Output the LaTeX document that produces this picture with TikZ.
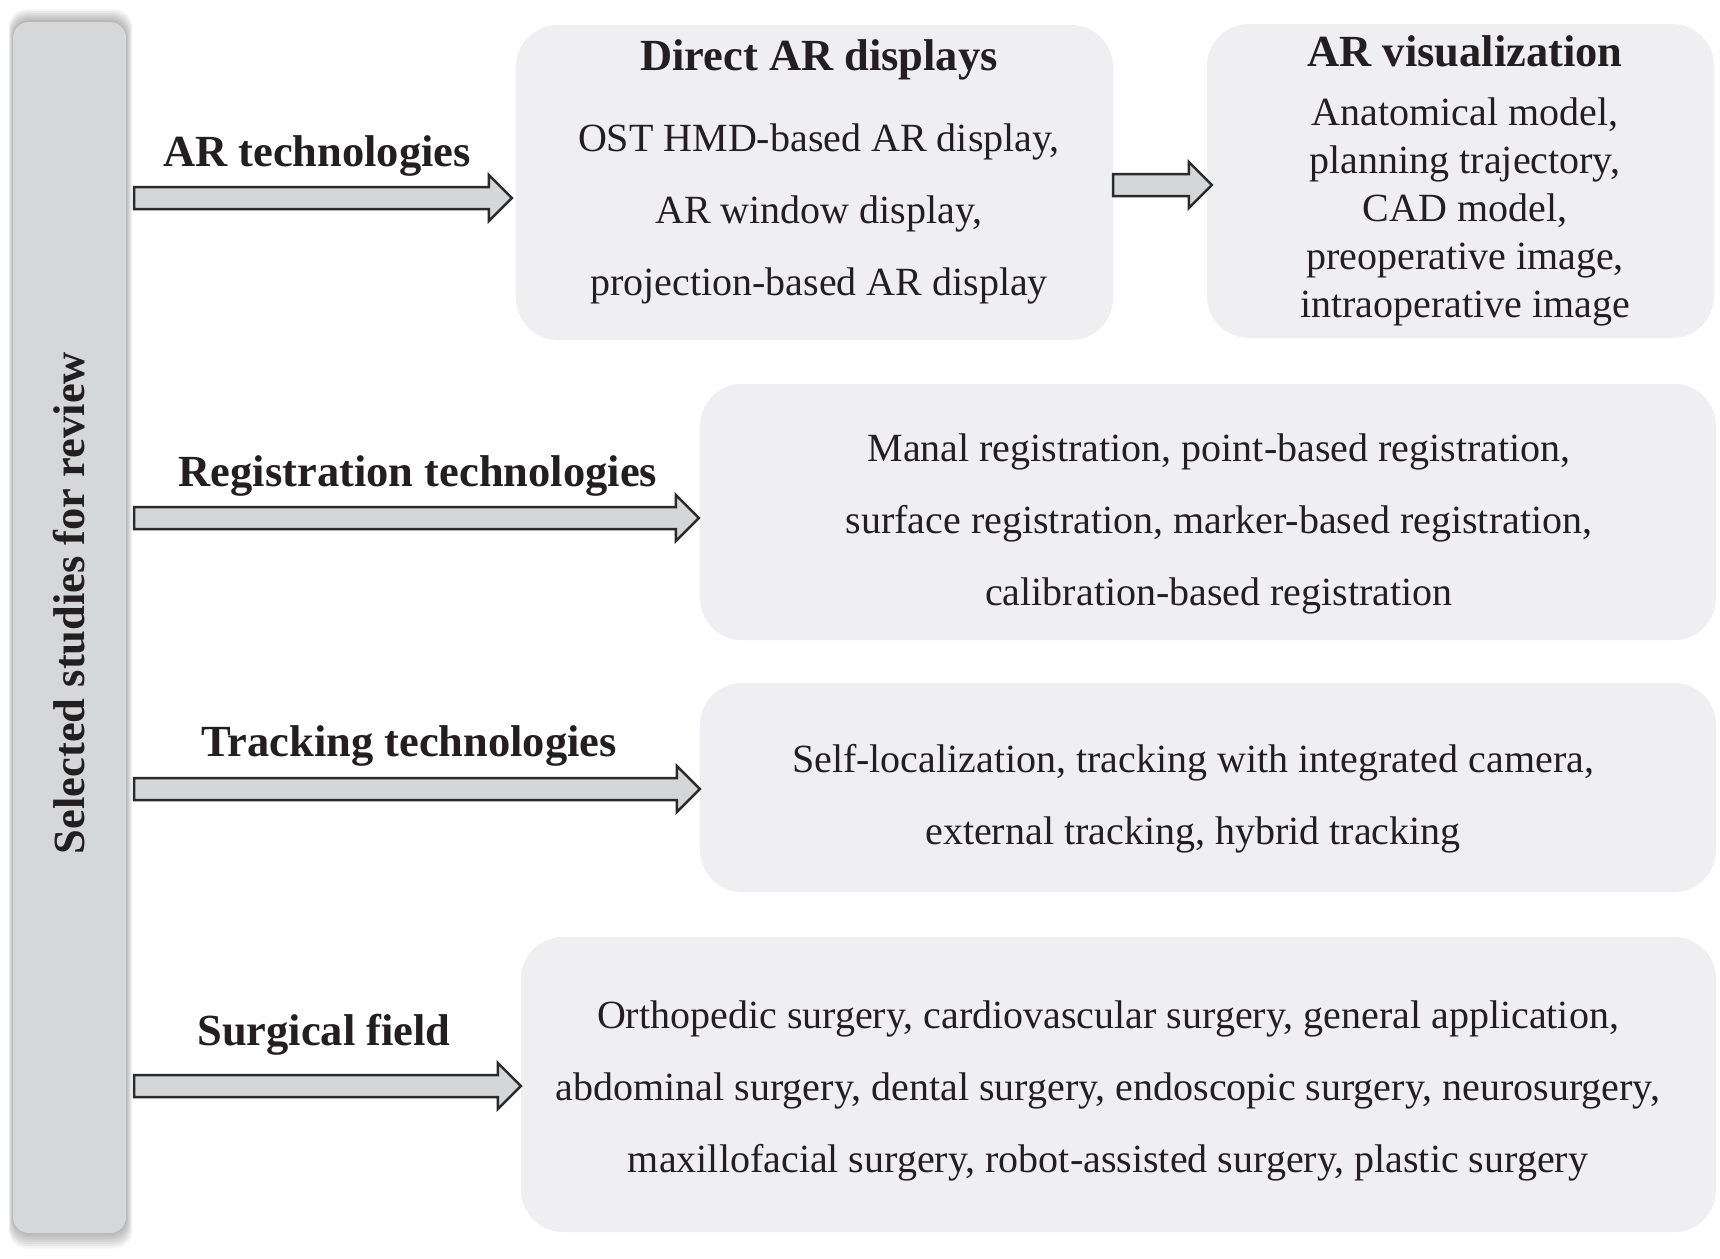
\documentclass[tikz,border=0pt]{standalone}
\usepackage{fontspec}
\setmainfont{Liberation Serif}
\usetikzlibrary{calc}
\definecolor{barfill}{HTML}{D6D7D9}
\definecolor{boxfill}{HTML}{EFEFF1}
\definecolor{arrfill}{HTML}{D5D6D8}
\definecolor{arrline}{HTML}{2B2B2B}
\definecolor{txt}{HTML}{231F20}
\newcommand\blockarr[2]{%
  \draw[blockarrow] let \p1=(#1), \p2=(#2) in
    (\x1,\y1+11pt) -- (\x2-23pt,\y1+11pt) -- (\x2-23pt,\y1+23pt) -- (\x2,\y1)
    -- (\x2-23pt,\y1-23pt) -- (\x2-23pt,\y1-11pt) -- (\x1,\y1-11pt) -- cycle;}
\begin{document}
\begin{tikzpicture}[x=1pt,y=-1pt,
  panel/.style={fill=boxfill, draw=none, rounded corners=42pt, inner sep=0pt},
  bodytext/.style={font=\fontsize{40}{72}\selectfont, text=txt, align=center, anchor=base, inner sep=0pt},
  vistext/.style={font=\fontsize{40}{48}\selectfont, text=txt, align=center, anchor=base, inner sep=0pt},
  headtext/.style={font=\bfseries\fontsize{44.5}{53}\selectfont, text=txt, anchor=base, inner sep=0pt},
  blockarrow/.style={fill=arrfill, draw=arrline, line width=2.5pt, line join=miter}
]
\useasboundingbox (0,0) rectangle (1720,1258);
\fill[white] (0,0) rectangle (1720,1258);

% shadow of the side bar
\foreach \i in {1,...,7}{
  \fill[black, opacity=0.045, rounded corners=18pt]
    (13-0.6*\i, 22-1.8*\i) rectangle (126+0.9*\i, 1233+2.2*\i);
}
\node[fill=barfill, draw=none, rounded corners=16pt, inner sep=0pt,
      minimum width=113pt, minimum height=1211pt] (bar) at (69.5,627.5) {};
\node[headtext, rotate=90] (title) at (84,603) {Selected studies for review};

% panels
\node[panel, minimum width=597pt, minimum height=315pt] (disp) at (814.5,182.5) {};
\node[panel, minimum width=507pt, minimum height=314pt] (vis)  at (1460.5,181) {};
\node[panel, minimum width=1016pt, minimum height=256pt] (reg) at (1208,512) {};
\node[panel, minimum width=1016pt, minimum height=209pt] (trk) at (1208,787.5) {};
\node[panel, minimum width=1195pt, minimum height=295pt] (surg) at (1118.5,1084.5) {};

% panel texts (anchor base = baseline of the last line)
\node[headtext] (dispH) at (819,70) {Direct AR displays};
\node[bodytext] (dispT) at (819,295) {OST HMD-based AR display,\\AR window display,\\projection-based AR display};
\node[headtext] (visH) at (1465,66) {AR visualization};
\node[vistext] (visT) at (1465,317) {Anatomical model,\\planning trajectory,\\CAD model,\\preoperative image,\\intraoperative image};
\node[bodytext] (regT) at (1219,605) {Manal registration, point-based registration,\\surface registration, marker-based registration,\\calibration-based registration};
\node[bodytext] (trkT) at (1193,844) {Self-localization, tracking with integrated camera,\\external tracking, hybrid tracking};
\node[bodytext] (surgT) at (1108,1172) {Orthopedic surgery, cardiovascular surgery, general application,\\abdominal surgery, dental surgery, endoscopic surgery, neurosurgery,\\maxillofacial surgery, robot-assisted surgery, plastic surgery};

% arrow labels
\node[headtext] (l1) at (317,166) {AR technologies};
\node[headtext] (l2) at (418,486) {Registration technologies};
\node[headtext] (l3) at (409,756) {Tracking technologies};
\node[headtext] (l4) at (324,1045) {Surgical field};

% arrows
\coordinate (a1s) at (134,198);
\coordinate (a1e) at ($(disp.west |- a1s)+(-4,0)$);
\coordinate (a2s) at ($(disp.east)+(0,2.5)$);
\coordinate (a2e) at ($(vis.west |- a2s)+(5,0)$);
\coordinate (a3s) at (134,518);
\coordinate (a3e) at ($(reg.west |- a3s)+(-1,0)$);
\coordinate (a4s) at (134,789);
\coordinate (a4e) at (reg.west |- a4s);
\coordinate (a5s) at (134,1086);
\coordinate (a5e) at (surg.west |- a5s);
\blockarr{a1s}{a1e}
\blockarr{a2s}{a2e}
\blockarr{a3s}{a3e}
\blockarr{a4s}{a4e}
\blockarr{a5s}{a5e}
\end{tikzpicture}
\end{document}
